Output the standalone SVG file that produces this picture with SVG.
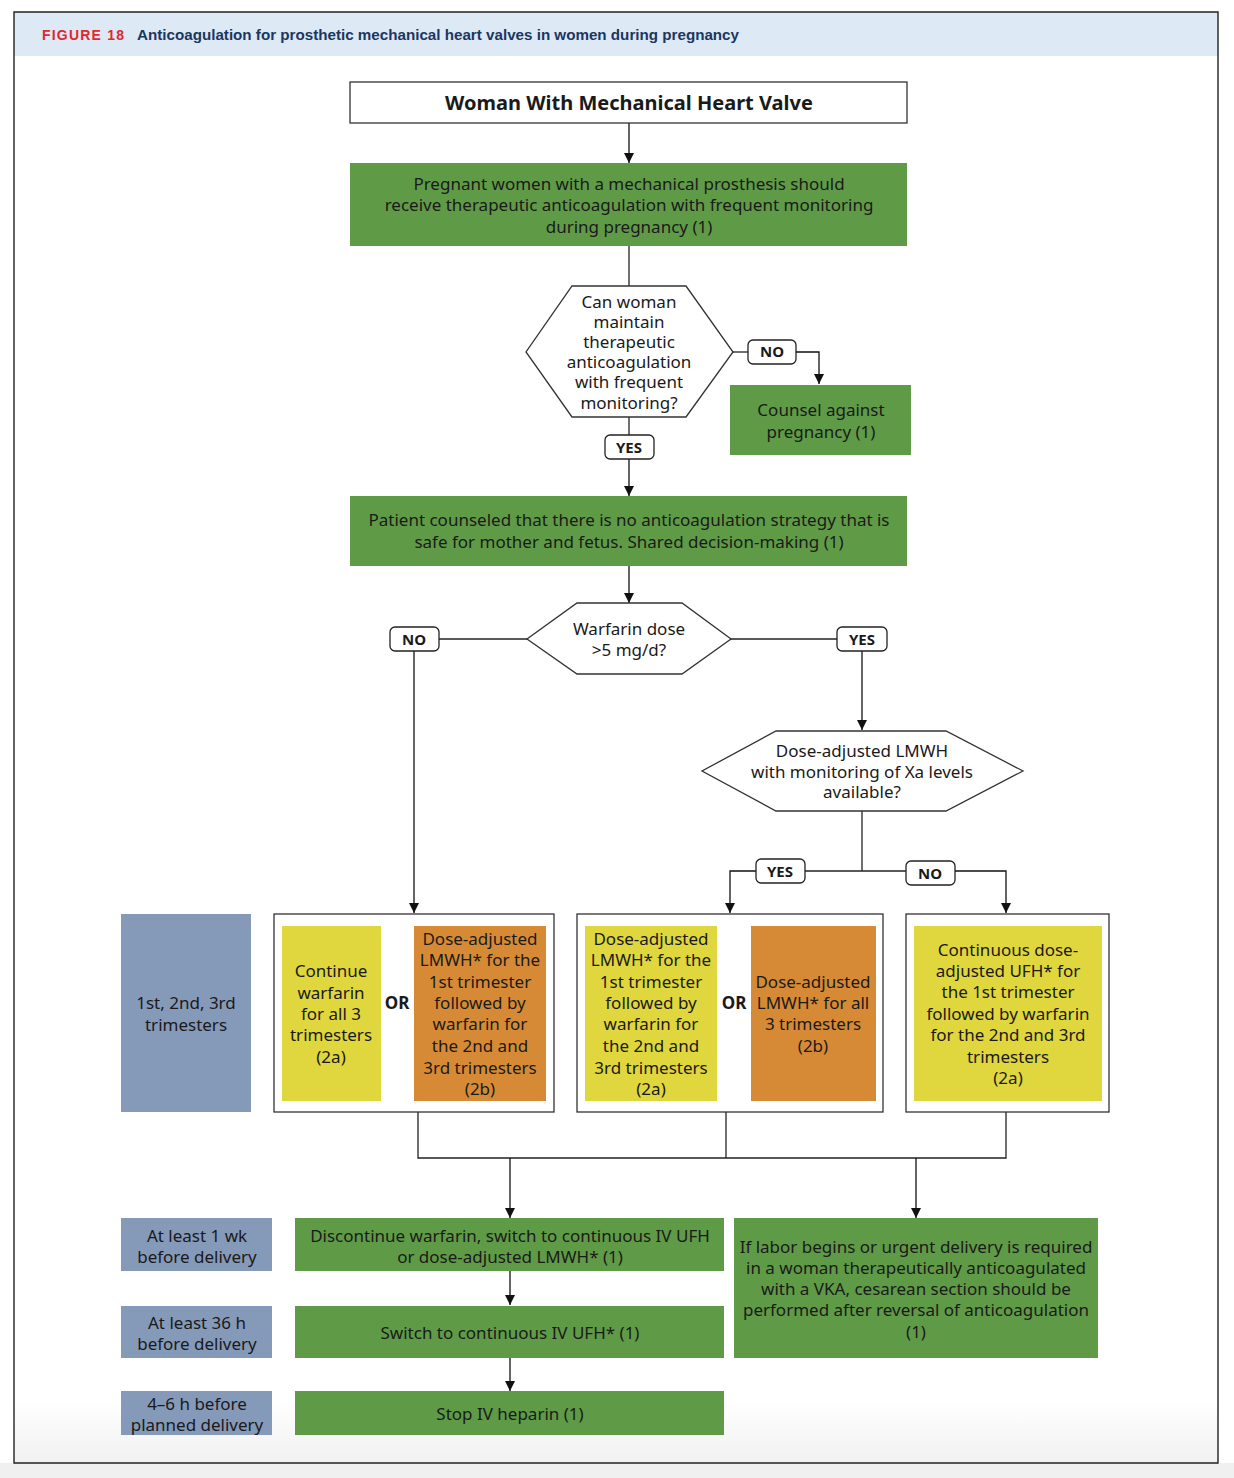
<svg xmlns="http://www.w3.org/2000/svg" width="1234" height="1478" viewBox="0 0 1234 1478">
<defs>
<marker id="ah" viewBox="0 0 10 10" refX="10" refY="5" markerWidth="10" markerHeight="11" markerUnits="userSpaceOnUse" orient="auto"><path d="M0,0 L10,5 L0,10 z" fill="#111"/></marker>
<linearGradient id="bot" x1="0" y1="0" x2="0" y2="1"><stop offset="0" stop-color="#ffffff"/><stop offset="1" stop-color="#f1f1f1"/></linearGradient>
<style>
text{font-family:"Noto Sans","Open Sans","DejaVu Sans",sans-serif;font-size:17px;fill:#1a1a1a;text-anchor:middle}
.b{font-weight:bold}
.lbl{font-weight:bold;font-size:15px}
.green{fill:#5f9a46}
.yel{fill:#e0d63d}
.org{fill:#d68a35}
.blue{fill:#8599b9}
.wbox{fill:#fff;stroke:#333;stroke-width:1.3}
.tag{fill:#fff;stroke:#222;stroke-width:1.3}
.c{fill:none;stroke:#222;stroke-width:1.3}
.ar{fill:none;stroke:#111;stroke-width:1.3;marker-end:url(#ah)}
</style>
</defs>
<rect x="0" y="0" width="1234" height="1478" fill="#fff"/>
<rect x="14" y="1400" width="1204" height="63" fill="url(#bot)"/>
<rect x="0" y="1463" width="1234" height="15" fill="#f0f0f0"/>
<g id="frame">
<rect x="14" y="12" width="1204" height="44" fill="#dde9f5"/>
<path d="M14,12 H1218 V1463 H14 Z" fill="none" stroke="#222" stroke-width="1.4"/>
<text x="42" y="40" style="font-family:'Liberation Sans Narrow','Liberation Sans',sans-serif;font-weight:bold;font-size:14px;fill:#e0282e;text-anchor:start;letter-spacing:1.2px">FIGURE 18</text>
<text x="137" y="40" textLength="602" lengthAdjust="spacingAndGlyphs" style="font-family:'Liberation Sans Narrow','Liberation Sans',sans-serif;font-weight:bold;font-size:15px;fill:#1b3660;text-anchor:start">Anticoagulation for prosthetic mechanical heart valves in women during pregnancy</text>
</g>
<g id="connectors">
<line class="ar" x1="629" y1="123" x2="629" y2="163"/>
<line class="c" x1="629" y1="246" x2="629" y2="286"/>
<line class="c" x1="733" y1="352" x2="748" y2="352"/>
<path class="ar" d="M796,352 H819 V384"/>
<line class="c" x1="629" y1="417" x2="629" y2="435"/>
<line class="ar" x1="629" y1="459" x2="629" y2="496"/>
<line class="ar" x1="629" y1="566" x2="629" y2="603"/>
<line class="c" x1="439" y1="639" x2="527" y2="639"/>
<line class="ar" x1="414" y1="651" x2="414" y2="913"/>
<line class="c" x1="731" y1="639" x2="837" y2="639"/>
<line class="ar" x1="862" y1="651" x2="862" y2="730"/>
<line class="c" x1="862" y1="811" x2="862" y2="871"/>
<path class="ar" d="M756,871 H730 V913"/>
<line class="c" x1="805" y1="871" x2="906" y2="871"/>
<path class="ar" d="M955,871 H1006 V913"/>
<path class="c" d="M418,1112 V1158 H1006 V1112"/>
<line class="c" x1="726" y1="1112" x2="726" y2="1158"/>
<line class="ar" x1="510" y1="1158" x2="510" y2="1218"/>
<line class="ar" x1="916" y1="1158" x2="916" y2="1218"/>
<line class="ar" x1="510" y1="1271" x2="510" y2="1305"/>
<line class="ar" x1="510" y1="1358" x2="510" y2="1391"/>
</g>
<g id="start">
<rect class="wbox" x="350" y="82" width="557" height="41"/>
<text class="b" x="629" y="110" style="font-size:20px">Woman With Mechanical Heart Valve</text>
</g>
<g id="therapeutic">
<rect class="green" x="350" y="163" width="557" height="83"/>
<text x="629" y="190">Pregnant women with a mechanical prosthesis should</text>
<text x="629" y="211">receive therapeutic anticoagulation with frequent monitoring</text>
<text x="629" y="233">during pregnancy (1)</text>
</g>
<g id="q1">
<polygon class="wbox" points="572,286 686,286 733,352 686,417 572,417 526,352"/>
<text x="629" y="308">Can woman</text>
<text x="629" y="328">maintain</text>
<text x="629" y="348">therapeutic</text>
<text x="629" y="368">anticoagulation</text>
<text x="629" y="388">with frequent</text>
<text x="629" y="409">monitoring?</text>
</g>
<g id="q1-no">
<rect class="tag" x="748" y="340" width="48" height="24" rx="5"/>
<text class="lbl" x="772" y="357">NO</text>
</g>
<g id="counsel">
<rect class="green" x="730" y="385" width="181" height="70"/>
<text x="821" y="416">Counsel against</text>
<text x="821" y="438">pregnancy (1)</text>
</g>
<g id="q1-yes">
<rect class="tag" x="605" y="435" width="49" height="24" rx="5"/>
<text class="lbl" x="629" y="453">YES</text>
</g>
<g id="shared">
<rect class="green" x="350" y="496" width="557" height="70"/>
<text x="629" y="526">Patient counseled that there is no anticoagulation strategy that is</text>
<text x="629" y="548">safe for mother and fetus. Shared decision-making (1)</text>
</g>
<g id="q2">
<polygon class="wbox" points="577,603 682,603 731,639 682,674 577,674 527,639"/>
<text x="629" y="635">Warfarin dose</text>
<text x="629" y="656">&gt;5 mg/d?</text>
</g>
<g id="q2-no">
<rect class="tag" x="390" y="627" width="49" height="24" rx="5"/>
<text class="lbl" x="414" y="645">NO</text>
</g>
<g id="q2-yes">
<rect class="tag" x="837" y="627" width="50" height="24" rx="5"/>
<text class="lbl" x="862" y="645">YES</text>
</g>
<g id="q3">
<polygon class="wbox" points="776,731 946,731 1023,771 946,811 776,811 702,771"/>
<text x="862" y="757">Dose-adjusted LMWH</text>
<text x="862" y="778">with monitoring of Xa levels</text>
<text x="862" y="798">available?</text>
</g>
<g id="q3-yes">
<rect class="tag" x="756" y="859" width="49" height="24" rx="5"/>
<text class="lbl" x="780" y="877">YES</text>
</g>
<g id="q3-no">
<rect class="tag" x="906" y="861" width="49" height="24" rx="5"/>
<text class="lbl" x="930" y="879">NO</text>
</g>
<g id="trimesters">
<rect class="blue" x="121" y="914" width="130" height="198"/>
<text x="186" y="1009">1st, 2nd, 3rd</text>
<text x="186" y="1031">trimesters</text>
</g>
<g id="optA">
<rect class="wbox" x="274" y="914" width="280" height="198"/>
<rect class="yel" x="282" y="926" width="99" height="175"/>
<text x="331" y="977">Continue</text>
<text x="331" y="999">warfarin</text>
<text x="331" y="1020">for all 3</text>
<text x="331" y="1041">trimesters</text>
<text x="331" y="1063">(2a)</text>
<text class="b" x="397" y="1009">OR</text>
<rect class="org" x="414" y="926" width="132" height="175"/>
<text x="480" y="945">Dose-adjusted</text>
<text x="480" y="966">LMWH* for the</text>
<text x="480" y="988">1st trimester</text>
<text x="480" y="1009">followed by</text>
<text x="480" y="1030">warfarin for</text>
<text x="480" y="1052">the 2nd and</text>
<text x="480" y="1074">3rd trimesters</text>
<text x="480" y="1095">(2b)</text>
</g>
<g id="optB">
<rect class="wbox" x="577" y="914" width="306" height="198"/>
<rect class="yel" x="585" y="926" width="132" height="175"/>
<text x="651" y="945">Dose-adjusted</text>
<text x="651" y="966">LMWH* for the</text>
<text x="651" y="988">1st trimester</text>
<text x="651" y="1009">followed by</text>
<text x="651" y="1030">warfarin for</text>
<text x="651" y="1052">the 2nd and</text>
<text x="651" y="1074">3rd trimesters</text>
<text x="651" y="1095">(2a)</text>
<text class="b" x="734" y="1009">OR</text>
<rect class="org" x="751" y="926" width="125" height="175"/>
<text x="813" y="988">Dose-adjusted</text>
<text x="813" y="1009">LMWH* for all</text>
<text x="813" y="1030">3 trimesters</text>
<text x="813" y="1052">(2b)</text>
</g>
<g id="optC">
<rect class="wbox" x="906" y="914" width="203" height="198"/>
<rect class="yel" x="914" y="926" width="188" height="175"/>
<text x="1008" y="956">Continuous dose-</text>
<text x="1008" y="977">adjusted UFH* for</text>
<text x="1008" y="998">the 1st trimester</text>
<text x="1008" y="1020">followed by warfarin</text>
<text x="1008" y="1041">for the 2nd and 3rd</text>
<text x="1008" y="1063">trimesters</text>
<text x="1008" y="1084">(2a)</text>
</g>
<g id="t1wk">
<rect class="blue" x="121" y="1218" width="151" height="53"/>
<text x="197" y="1242">At least 1 wk</text>
<text x="197" y="1263">before delivery</text>
</g>
<g id="t36h">
<rect class="blue" x="121" y="1306" width="151" height="52"/>
<text x="197" y="1329">At least 36 h</text>
<text x="197" y="1350">before delivery</text>
</g>
<g id="t46h">
<rect class="blue" x="121" y="1391" width="151" height="44"/>
<text x="197" y="1410">4–6 h before</text>
<text x="197" y="1431">planned delivery</text>
</g>
<g id="discontinue">
<rect class="green" x="295" y="1218" width="429" height="53"/>
<text x="510" y="1242">Discontinue warfarin, switch to continuous IV UFH</text>
<text x="510" y="1263">or dose-adjusted LMWH* (1)</text>
</g>
<g id="switch">
<rect class="green" x="295" y="1306" width="429" height="52"/>
<text x="510" y="1339">Switch to continuous IV UFH* (1)</text>
</g>
<g id="stop">
<rect class="green" x="295" y="1391" width="429" height="44"/>
<text x="510" y="1420">Stop IV heparin (1)</text>
</g>
<g id="labor">
<rect class="green" x="734" y="1218" width="364" height="140"/>
<text x="916" y="1253">If labor begins or urgent delivery is required</text>
<text x="916" y="1274">in a woman therapeutically anticoagulated</text>
<text x="916" y="1295">with a VKA, cesarean section should be</text>
<text x="916" y="1316">performed after reversal of anticoagulation</text>
<text x="916" y="1338">(1)</text>
</g>
</svg>
